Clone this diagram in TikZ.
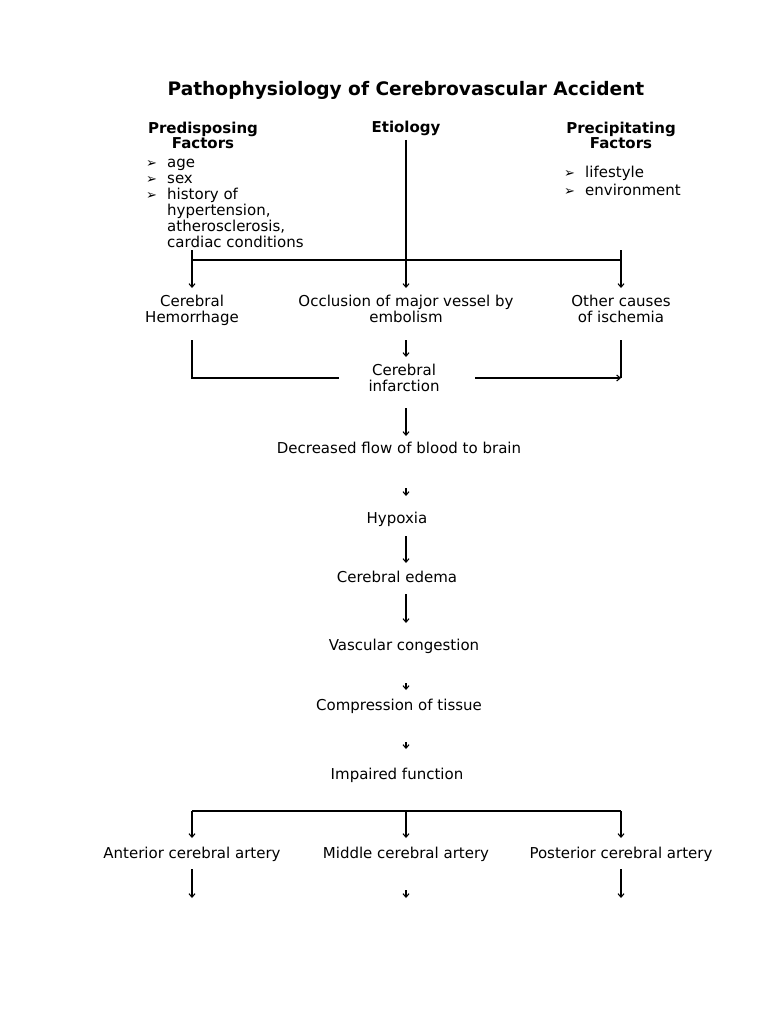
\documentclass[tikz,border=0pt]{standalone}
\usepackage{fontspec}
\setmainfont{DejaVu Sans}
\usetikzlibrary{arrows.meta}
\newcommand{\butir}{\makebox[21pt][l]{\fontsize{13}{14}\selectfont ➢}}

\begin{document}
\begin{tikzpicture}[x=1pt,y=-1pt,
    judul/.style={font=\fontsize{18.6}{21}\selectfont\bfseries, inner sep=0pt},
    kepala/.style={font=\fontsize{15}{15}\selectfont\bfseries, inner sep=0pt, align=center},
    teks/.style={font=\fontsize{15}{16}\selectfont, inner sep=0pt, text height=11.5pt, text depth=3.5pt},
    teks2/.style={font=\fontsize{15}{16}\selectfont, inner sep=0pt, align=center},
    daftar/.style={font=\fontsize{15}{16}\selectfont, inner sep=0pt, align=left, anchor=north west},
    garis/.style={line width=1.1pt},
    panah/.style={garis, -{Straight Barb[length=3.5pt,width=6pt]}}]
    \useasboundingbox[fill=white] (0,0) rectangle (768,1024);

    % judul dan faktor-faktor
    \node[judul] (judul) at (406,90) {Pathophysiology of Cerebrovascular Accident};
    \node[kepala] (pred) at (203,135) {Predisposing\\Factors};
    \node[kepala, text height=11.5pt, text depth=3.5pt] (etio) at (406,129) {Etiology};
    \node[kepala] (prec) at (621,135) {Precipitating\\Factors};
    \node[daftar] (predlist) at (146,156.3) {\strut\butir age\\ \butir sex\\ \butir history of\\
        \hspace*{21pt}hypertension,\\ \hspace*{21pt}atherosclerosis,\\ \hspace*{21pt}cardiac conditions};
    \node[daftar] (preclist) at (564,166.3) {\strut\butir lifestyle\\ \butir environment};

    % tiga penyebab
    \node[teks2] (hem) at (192,310) {Cerebral\\Hemorrhage};
    \node[teks2] (occl) at (406,309) {Occlusion of major vessel by\\embolism};
    \node[teks2] (other) at (621,309) {Other causes\\of ischemia};
    \node[teks2] (inf) at (404,378) {Cerebral\\infarction};

    % rantai utama
    \node[teks] (decr) at (399,449) {Decreased flow of blood to brain};
    \node[teks] (hyp) at (397,519) {Hypoxia};
    \node[teks] (edema) at (397,578) {Cerebral edema};
    \node[teks] (vasc) at (404,646) {Vascular congestion};
    \node[teks] (comp) at (399,706) {Compression of tissue};
    \node[teks] (imp) at (397,775) {Impaired function};

    % tiga arteri
    \node[teks] (ant) at (192,854) {Anterior cerebral artery};
    \node[teks] (mid) at (406,854) {Middle cerebral artery};
    \node[teks] (post) at (621,854) {Posterior cerebral artery};

    % titik bantu
    \coordinate (p1) at (192,250);
    \coordinate (p2) at (621,250);
    \coordinate (h1) at (192,260);
    \coordinate (h2) at (621,260);
    \coordinate (c1) at (192,811);
    \coordinate (c2) at (406,811);
    \coordinate (c3) at (621,811);
    \coordinate (e1) at (192,898);
    \coordinate (e2) at (406,898);
    \coordinate (e3) at (621,898);

    % garis atas
    \draw[panah, shorten <=11pt, shorten >=21pt] (etio.center) -- (etio.center |- occl.center);
    \draw[garis] (h1) -- (h2);
    \draw[panah, shorten >=22pt] (p1) -- (hem.center);
    \draw[panah, shorten >=21pt] (p2) -- (other.center);

    % menuju infark
    \draw[garis, shorten <=30pt, shorten >=65pt] (hem.center) |- (inf.center);
    \draw[panah, shorten <=31pt, shorten >=21pt] (occl.center -| c2) -- (inf.center -| c2);
    \draw[panah, shorten <=71pt] (inf.center) -- (inf.center -| other);
    \draw[garis, shorten <=31pt] (other.center) -- (inf.center -| other);

    % panah rantai
    \draw[panah, shorten <=30pt, shorten >=13pt] (inf.center -| c2) -- (decr.center -| c2);
    \draw[panah, shorten <=39pt, shorten >=23pt] (decr.center -| c2) -- (hyp.center -| c2);
    \draw[panah, shorten <=17pt, shorten >=15pt] (hyp.center -| c2) -- (edema.center -| c2);
    \draw[panah, shorten <=16pt, shorten >=23pt] (edema.center -| c2) -- (vasc.center -| c2);
    \draw[panah, shorten <=37pt, shorten >=16pt] (vasc.center -| c2) -- (comp.center -| c2);
    \draw[panah, shorten <=36pt, shorten >=26pt] (comp.center -| c2) -- (imp.center -| c2);

    % cabang bawah
    \draw[garis] (c1) -- (c3);
    \draw[panah, shorten >=16pt] (c1) -- (ant.center);
    \draw[panah, shorten >=16pt] (c2) -- (mid.center);
    \draw[panah, shorten >=16pt] (c3) -- (post.center);
    \draw[panah, shorten <=15pt] (ant.center) -- (e1);
    \draw[panah, shorten <=36pt] (mid.center) -- (e2);
    \draw[panah, shorten <=15pt] (post.center) -- (e3);
\end{tikzpicture}
\end{document}
